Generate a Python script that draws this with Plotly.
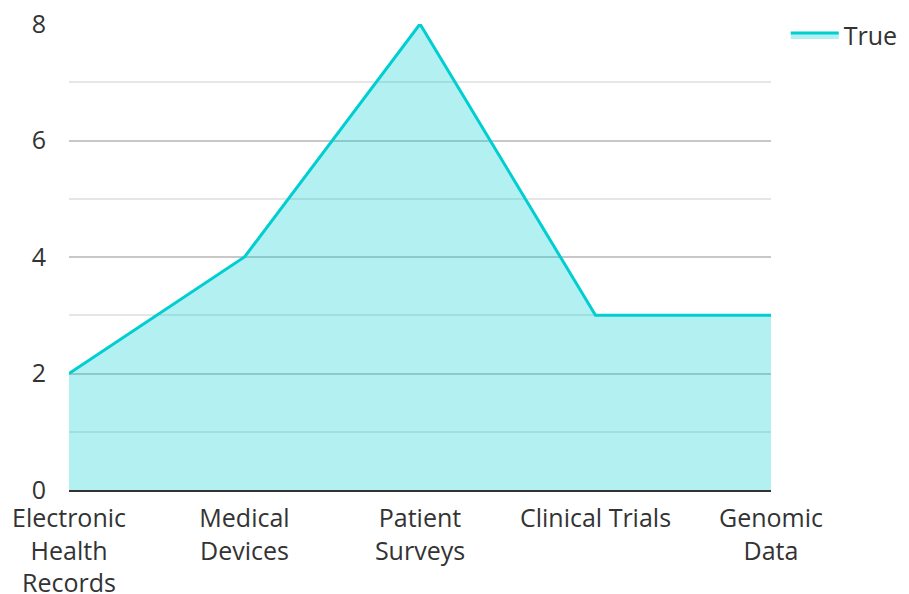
import plotly.graph_objects as go

categories = ["Electronic<br>Health<br>Records", "Medical<br>Devices", "Patient<br>Surveys", "Clinical Trials", "Genomic<br>Data"]
values = [2, 4, 8, 3, 3]
series_name = "True"
y_ticks = [0, 2, 4, 6, 8]

fig = go.Figure()
fig.add_trace(go.Scatter(
    x=categories, y=values, name=series_name, mode="lines",
    line=dict(color="#00CED1", width=3),
    fill="tozeroy", fillcolor="rgba(0,206,209,0.3)",
    showlegend=True,
))

fig.update_layout(
    width=901, height=586,
    margin=dict(l=61, r=138, t=16, b=104, autoexpand=False),
    paper_bgcolor="white", plot_bgcolor="white",
    font=dict(family="Open Sans", size=25, color="#333333"),
    showlegend=True,
    legend=dict(x=1.021, y=1.025, xanchor="left", yanchor="top", itemwidth=48,
                font=dict(size=25, color="#333333"), bgcolor="rgba(0,0,0,0)"),
    xaxis=dict(range=[0, 4], showgrid=False, zeroline=False, automargin=False,
               showline=True, linecolor="#333333", linewidth=2,
               ticks="outside", ticklen=5, tickcolor="rgba(0,0,0,0)",
               ticklabeloverflow="allow",
               tickfont=dict(size=25, color="#333333")),
    yaxis=dict(range=[0, 8], tickvals=y_ticks, showgrid=True, automargin=False,
               gridcolor="#c8c8c8", gridwidth=1.5, zeroline=False,
               showline=False, ticklabelstandoff=22, ticklabeloverflow="allow",
               tickfont=dict(size=25, color="#333333"),
               minor=dict(showgrid=True, gridcolor="#e6e6e6", gridwidth=1.5, dtick=1)),
)

fig.write_html("out.html")
